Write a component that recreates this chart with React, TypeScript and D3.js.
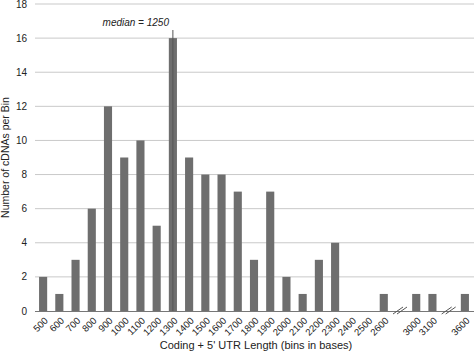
import React from 'react';
import * as d3 from 'd3';

const categories = ['500','600','700','800','900','1000','1100','1200','1300','1400','1500','1600','1700','1800','1900','2000','2100','2200','2300','2400','2500','2600','brk1','3000','3100','brk2','3600'];
const counts = [2,1,3,6,12,9,10,5,16,9,8,8,7,3,7,2,1,3,4,0,0,1,0,1,1,0,1];
const yTicks = [0,2,4,6,8,10,12,14,16,18];
const medianLabel = 'median = 1250';
const medianBin = '1300';

const W = 474, H = 352;
const left = 35, right = 473, top = 4, bottom = 311;

export default function App() {
  const x = d3.scaleBand<string>().domain(categories).range([left, right]).paddingInner(0.5).paddingOuter(0.25);
  const y = d3.scaleLinear().domain([0, 18]).range([bottom, top]);
  const bw = x.bandwidth();
  const font = 'Liberation Sans, Arial, Helvetica, sans-serif';
  const mx = (x(medianBin) as number) + bw / 2;
  return (
    <svg width={W} height={H} style={{ position: 'absolute', left: 0, top: 0, background: '#fff' }} fontFamily={font}>
      {yTicks.map(t => (
        <g key={t}>
          {t > 0 && <line x1={left} x2={W} y1={y(t)} y2={y(t)} stroke="#c9c9c9" strokeWidth={1} />}
          <text x={27} y={y(t)} dy="0.35em" textAnchor="end" fontSize={10} fill="#222">{t}</text>
        </g>
      ))}
      {categories.map((c, i) => (
        <rect key={c} x={x(c)} y={y(counts[i])} width={bw} height={bottom - y(counts[i])} fill="#6e6e6e" />
      ))}
      <line x1={mx} x2={mx} y1={30} y2={bottom} stroke="#555" strokeWidth={1} />
      <text x={169} y={26} textAnchor="end" fontSize={10} fontStyle="italic" fill="#222">{medianLabel}</text>
      <line x1={left} x2={W} y1={bottom + 0.5} y2={bottom + 0.5} stroke="#777" strokeWidth={1} />
      {categories.map(c => {
        const cx = (x(c) as number) + bw / 2;
        if (c.startsWith('brk')) {
          return (
            <g key={c} stroke="#555" strokeWidth={1}>
              <line x1={cx - 7} y1={bottom + 3} x2={cx + 3} y2={bottom - 4} />
              <line x1={cx - 3} y1={bottom + 3} x2={cx + 7} y2={bottom - 4} />
            </g>
          );
        }
        return (
          <text key={c} transform={`translate(${cx + 3},${bottom + 8}) rotate(-45)`} textAnchor="end" dy="0.35em" fontSize={9.5} fill="#222">{c}</text>
        );
      })}
      <text x={(left + right) / 2 + 2} y={349} textAnchor="middle" fontSize={11} fill="#222">Coding + 5' UTR Length (bins in bases)</text>
      <text transform={`translate(9,${(top + bottom) / 2}) rotate(-90)`} textAnchor="middle" fontSize={10.5} fill="#222">Number of cDNAs per Bin</text>
    </svg>
  );
}
